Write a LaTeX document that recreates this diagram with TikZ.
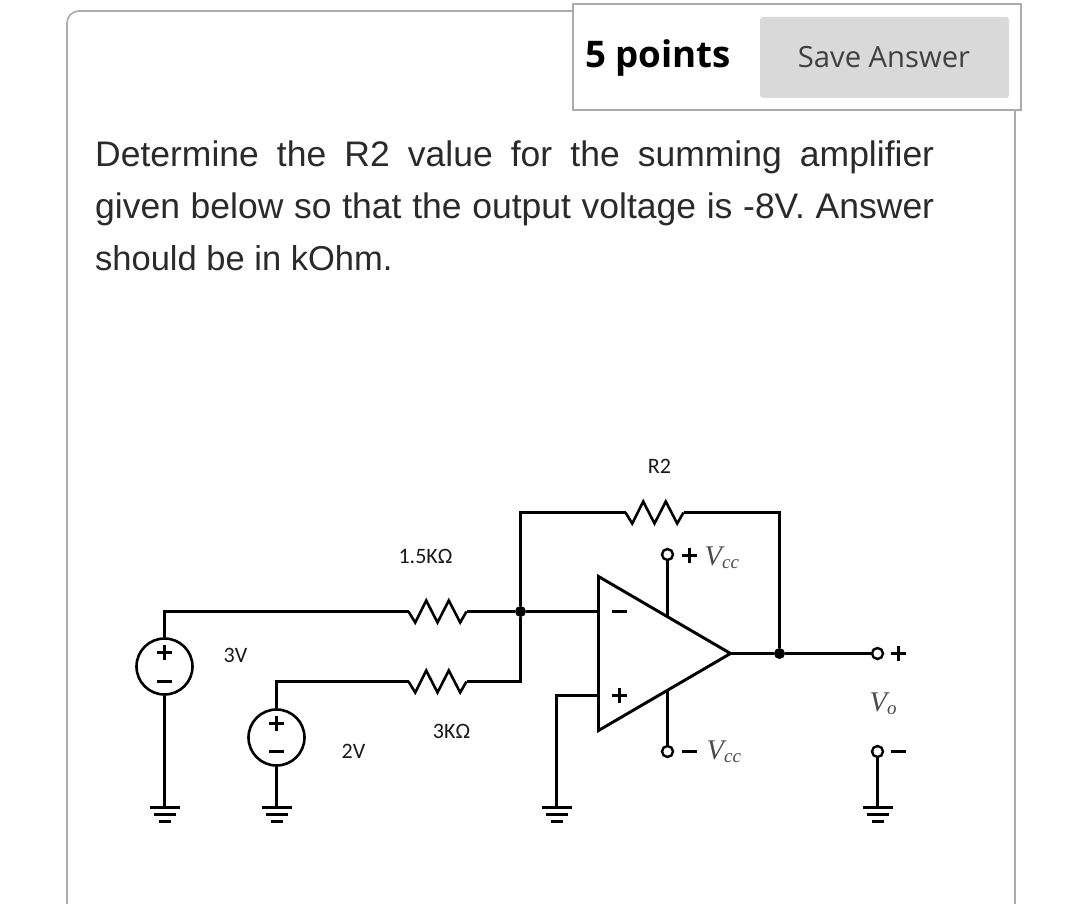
\documentclass[tikz,border=0pt]{standalone}
\usepackage{fontspec}
\setmainfont{Liberation Sans}
\newfontfamily\osans{Open Sans}
\newfontfamily\lblfont{Carlito}
\newfontfamily\vfont{Liberation Serif}
\usetikzlibrary{calc}
\definecolor{cardline}{HTML}{ABABAB}
\definecolor{btn}{HTML}{D9D9D9}
\definecolor{qtext}{HTML}{2A2A2A}
\definecolor{vgray}{HTML}{4A4A4A}
\newcommand{\vsym}[1]{V\raisebox{-2.5pt}{\fontsize{19}{21}\selectfont #1}}
\tikzset{
  wire/.style={line width=2.95pt,black,line join=miter},
  src/.style={circle,draw,line width=2.6pt,minimum size=56pt,inner sep=0pt},
  term/.style={circle,draw,line width=2.4pt,fill=white,minimum size=11pt,inner sep=0pt},
  jn/.style={circle,fill=black,minimum size=11pt,inner sep=0pt},
  lbl/.style={inner sep=0pt,font=\lblfont\fontsize{22}{24}\selectfont,text=black!90},
  qline/.style={anchor=base west,inner sep=0pt,text=qtext,font=\fontsize{35.5}{40}\selectfont},
  vcc/.style={anchor=base west,inner sep=0pt,text=vgray,font=\vfont\itshape\fontsize{28.5}{32}\selectfont},
  pics/res/.style={code={
    \coordinate (-in) at (0,0);
    \coordinate (-out) at (58,0);
    \draw[wire,line width=2.6pt] (0,0) -- (6.7,11) -- (17.7,-11) -- (29,11) -- (40.3,-11) -- (51.7,11) -- (58,0);
  }},
  pics/gnd/.style={code={
    \draw[wire] (-15,0) -- (15,0);
    \draw[wire] (-11,7) -- (11,7);
    \draw[wire] (-6,14) -- (6,14);
  }},
  pics/plussign/.style={code={
    \draw[line width=2.95pt] (-7.5,0) -- (7.5,0) (0,-7.5) -- (0,7.5);
  }},
  pics/minussign/.style={code={
    \draw[line width=2.95pt] (-7.5,0) -- (7.5,0);
  }}
}
\begin{document}
\begin{tikzpicture}[x=1pt,y=-1pt]
\useasboundingbox (0,0) rectangle (1080,904);
\fill[white] (0,0) rectangle (1080,904);
% card
\draw[cardline,line width=1.6pt,rounded corners=12pt] (573,11) -- (67,11) -- (67,904);
\draw[cardline,line width=1.6pt] (1015,110) -- (1015,904);
\node[draw=cardline,line width=1.6pt,fill=white,minimum width=448pt,minimum height=106pt,inner sep=0pt] (pts) at (797,57) {};
\node[fill=btn,rounded corners=3pt,minimum width=249pt,minimum height=81pt,inner sep=0pt] (save) at (884.5,57.5) {};
\node[anchor=base west,inner sep=0pt,font=\osans\bfseries\fontsize{36.7}{40}\selectfont] (pointsT) at (585,68) {5 points};
\node[anchor=base,inner sep=0pt,text=black!75,font=\osans\fontsize{29.2}{32}\selectfont] (saveT) at (884,67.5) {Save Answer};
% question
\node[qline] (q1) at (95,167) {\makebox[839pt][s]{Determine the R2 value for the summing amplifier}};
\node[qline] (q2) at (95,219) {\makebox[839pt][s]{given below so that the output voltage is -8V. Answer}};
\node[qline,font=\fontsize{34.5}{40}\selectfont] (q3) at (95,271) {should be in kOhm.};
\begin{scope}[shift={(0.5,0.5)}]
% sources
\node[src] (v1) at (164,666) {};
\node[src] (v2) at (276,737) {};
\pic at (164,652) {plussign};
\pic at (164,681) {minussign};
\pic at (276,723) {plussign};
\pic at (276,751) {minussign};
\node[lbl] (l3v) at (235,655) {3V};
\node[lbl] (l2v) at (353,751) {2V};
% resistors
\pic (r1) at (408,611) {res};
\pic (r3) at (408,681) {res};
\pic (r2) at (625,512) {res};
\node[lbl] (lr1) at (425,556) {1.5KΩ};
\node[lbl] (lr3) at (451,731) {3KΩ};
\node[lbl] (lr2) at (659,466) {R2};
% opamp
\coordinate (ot) at (598,576);
\coordinate (ob) at (598,730);
\coordinate (oo) at (730,653);
\draw[wire,line join=miter] (ot) -- (oo) -- (ob) -- cycle;
\pic at (619,611) {minussign};
\pic at (619,695) {plussign};
% nodes
\node[jn] (jm) at (520,611) {};
\node[jn] (jo) at (779,653) {};
\coordinate (ivin) at (598,611);
\coordinate (nin) at (598,695);
\coordinate (tpb) at (667,616);
\coordinate (tnb) at (667,690);
\coordinate (g1) at (164,807);
\coordinate (g2) at (276,807);
\coordinate (g3) at (556,807);
\coordinate (g4) at (877,807);
\coordinate (fbl) at (520,512);
\coordinate (fbr) at (779,512);
\coordinate (j3) at (520,681);
\coordinate (t3) at (276,681);
\coordinate (t1) at (164,611);
\coordinate (nc) at (556,695);
\node[term] (tp) at (667,554) {};
\node[term] (tn) at (667,751) {};
\node[term] (vop) at (877,653) {};
\node[term] (von) at (877,751) {};
% wires
\draw[wire] (v1.north) -- (t1) -- (r1-in);
\draw[wire] (r1-out) -- (jm) -- (ivin);
\draw[wire] (v2.north) -- (t3) -- (r3-in);
\draw[wire] (r3-out) -- (j3) -- (jm);
\draw[wire] (jm) -- (fbl) -- (r2-in);
\draw[wire] (r2-out) -- (fbr) -- (jo);
\draw[wire] (oo) -- (jo) -- (vop.west);
\draw[wire] (v1.south) -- (g1);
\draw[wire] (v2.south) -- (g2);
\draw[wire] (nin) -- (nc) -- (g3);
\draw[wire] (von.south) -- (g4);
\draw[wire] (tp.south) -- (tpb);
\draw[wire] (tn.north) -- (tnb);
\pic at (g1) {gnd};
\pic at (g2) {gnd};
\pic at (g3) {gnd};
\pic at (g4) {gnd};
% supply and output labels
\pic at (689,555) {plussign};
\pic at (689,751) {minussign};
\pic at (898,653) {plussign};
\pic at (898,751) {minussign};
\node[vcc] (vccp) at (704,565) {\vsym{cc}};
\node[vcc] (vccn) at (706,759) {\vsym{cc}};
\node[vcc] (vo) at (869,711) {\vsym{o}};
\end{scope}
\end{tikzpicture}
\end{document}
